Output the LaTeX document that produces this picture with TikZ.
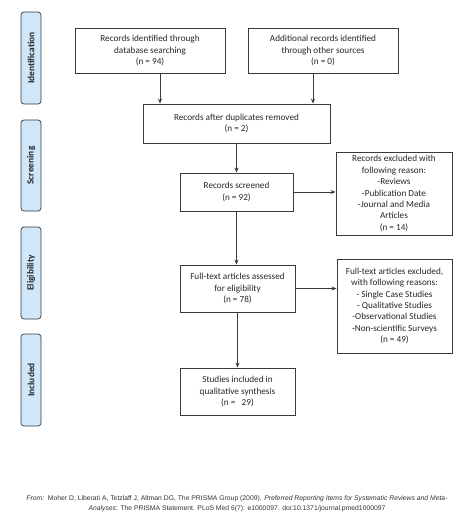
\documentclass[tikz,border=0pt]{standalone}
\usepackage{fontspec}
\setmainfont{Carlito}
\newfontfamily\footfont{Liberation Sans}
\usetikzlibrary{arrows.meta}
\definecolor{phasefill}{HTML}{CFE7F8}
\definecolor{boxline}{HTML}{3A3A3A}
\tikzset{
  flowbox/.style={draw=boxline, line width=0.8pt, align=center, inner sep=2pt,
    font=\fontsize{9.2}{11.4}\selectfont, text=black!85},
  phase/.style={draw=boxline, line width=0.7pt, fill=phasefill, rounded corners=3pt,
    minimum width=20pt, inner sep=0pt},
  phasetext/.style={rotate=90, font=\bfseries\fontsize{9.4}{10}\selectfont, text=black!85},
  arr/.style={-{Stealth[length=5pt,width=4pt]}, line width=0.8pt, draw=boxline}
}
\begin{document}
\begin{tikzpicture}[x=1pt,y=-1pt]
\useasboundingbox (0,0) rectangle (474,523);
% phase labels
\node[phase, minimum height=92pt] (pid) at (31,58) {};
\node[phasetext] (tid) at (pid.center) {Identification};
\node[phase, minimum height=91pt] (psc) at (31,165.5) {};
\node[phasetext] (tsc) at (psc.center) {Screening};
\node[phase, minimum height=92pt] (pel) at (31,273) {};
\node[phasetext] (tel) at (pel.center) {Eligibility};
\node[phase, minimum height=92pt] (pin) at (31,380) {};
\node[phasetext] (tin) at (pin.center) {Included};
% boxes
\node[flowbox, minimum width=150pt, minimum height=45pt] (b1) at (150,50.5)
  {Records identified through\\database searching\\(n = 94)};
\node[flowbox, minimum width=150pt, minimum height=45pt] (b2) at (323,50.5)
  {Additional records identified\\through other sources\\(n = 0)};
\node[flowbox, minimum width=187pt, minimum height=39pt] (dup) at (236.5,123.5)
  {Records after duplicates removed\\(n = 2)};
\node[flowbox, minimum width=113pt, minimum height=38pt] (scr) at (236.5,192)
  {Records screened\\(n = 92)};
\node[flowbox, minimum width=116pt, minimum height=83pt] (ex1) at (394,193.5)
  {Records excluded with\\following reason:\\-Reviews\\-Publication Date\\-Journal and Media\\Articles\\(n = 14)};
\node[flowbox, minimum width=115pt, minimum height=47pt] (full) at (237.5,288.5)
  {Full-text articles assessed\\for eligibility\\(n = 78)};
\node[flowbox, minimum width=115pt, minimum height=94pt] (ex2) at (394.5,306)
  {Full-text articles excluded,\\with following reasons:\\- Single Case Studies\\- Qualitative Studies\\-Observational Studies\\-Non-scientific Surveys\\(n = 49)};
\node[flowbox, minimum width=115pt, minimum height=47pt] (inc) at (237.5,391.5)
  {Studies included in\\qualitative synthesis\\(n = \ \ 29)};
% arrows
\draw[arr] ([xshift=10pt]b1.south) -- ([xshift=10pt]b1.south |- dup.north);
\draw[arr] ([xshift=-10pt]b2.south) -- ([xshift=-10pt]b2.south |- dup.north);
\draw[arr] (dup.south) -- (dup.south |- scr.north);
\draw[arr] (scr.east) -- (scr.east -| ex1.west);
\draw[arr] (scr.south) -- (scr.south |- full.north);
\draw[arr] (full.east) -- (full.east -| ex2.west);
\draw[arr] (full.south) -- (full.south |- inc.north);
% footer
\node[align=center, font=\footfont\fontsize{6.8}{10}\selectfont, text=black!80] (foot) at (237,504)
  {\textit{From:}\ \ Moher D, Liberati A, Tetzlaff J, Altman DG, The PRISMA Group (2009). \textit{Preferred Reporting Items for Systematic Reviews and Meta-}\\\textit{Analyses}: The PRISMA Statement. PLoS Med 6(7): e1000097. doi:10.1371/journal.pmed1000097};
\end{tikzpicture}
\end{document}
